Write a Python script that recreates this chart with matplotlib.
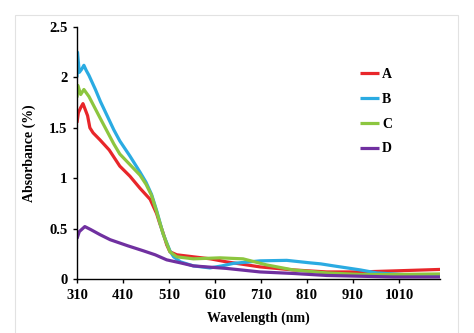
import matplotlib
matplotlib.use("Agg")
import matplotlib.pyplot as plt
from matplotlib.patches import Rectangle

# values
wl_a = [310, 313, 318, 323, 328, 333, 338, 345, 360, 380, 403, 425, 447, 469, 483, 490, 497, 505, 512, 527, 563, 600, 635, 708, 780, 853, 926, 997, 1100]
abs_a = [1.55, 1.65, 1.70, 1.74, 1.68, 1.62, 1.50, 1.45, 1.38, 1.28, 1.12, 1.02, 0.90, 0.79, 0.65, 0.55, 0.46, 0.34, 0.27, 0.24, 0.22, 0.20, 0.17, 0.12, 0.09, 0.07, 0.07, 0.08, 0.095]

wl_b = [310, 311, 315, 320, 325, 330, 336, 350, 361, 390, 403, 425, 447, 460, 472, 483, 497, 512, 520, 535, 563, 599, 625, 650, 708, 766, 817, 840, 868, 926, 962, 1034, 1100]
abs_b = [2.00, 2.25, 2.05, 2.08, 2.12, 2.07, 2.02, 1.88, 1.76, 1.48, 1.37, 1.22, 1.06, 0.96, 0.84, 0.68, 0.45, 0.28, 0.22, 0.17, 0.13, 0.11, 0.13, 0.155, 0.18, 0.185, 0.16, 0.15, 0.13, 0.09, 0.06, 0.04, 0.04]

wl_c = [310, 312, 318, 325, 336, 361, 390, 403, 447, 460, 472, 483, 497, 512, 527, 563, 621, 671, 722, 780, 853, 926, 1000, 1100]
abs_c = [1.80, 1.92, 1.83, 1.88, 1.81, 1.59, 1.34, 1.24, 1.03, 0.94, 0.83, 0.67, 0.45, 0.27, 0.22, 0.20, 0.21, 0.20, 0.14, 0.09, 0.06, 0.045, 0.045, 0.05]

wl_d = [310, 315, 327, 340, 360, 382, 420, 454, 480, 505, 535, 563, 635, 708, 780, 853, 997, 1100]
abs_d = [0.40, 0.47, 0.52, 0.49, 0.44, 0.39, 0.33, 0.28, 0.24, 0.19, 0.16, 0.13, 0.105, 0.07, 0.055, 0.035, 0.02, 0.02]

SERIES = [
    ("A", wl_a, abs_a, "#e8262a"),
    ("B", wl_b, abs_b, "#2aabe2"),
    ("C", wl_c, abs_c, "#8cc63f"),
    ("D", wl_d, abs_d, "#7030a0"),
]

x_ticks = [310, 410, 510, 610, 710, 810, 910, 1010]
y_ticks = [0, 0.5, 1, 1.5, 2, 2.5]
y_labels = ["0", "0.5", "1", "1.5", "2", "2.5"]

W, H = 474, 333
plt.rcParams["font.family"] = "Liberation Serif"
plt.rcParams["font.weight"] = "bold"

fig = plt.figure(figsize=(W / 100, H / 100), dpi=100)
fig.patches.append(Rectangle((15 / W, -0.1), (458 - 15) / W, 1.1 - 15 / H,
                             transform=fig.transFigure, fill=False,
                             edgecolor="#e2e2e2", linewidth=0.8))

ax = fig.add_axes([77 / W, 54 / H, 363.4 / W, 252 / H])
for name, wl, val, color in SERIES:
    ax.plot(wl, val, color=color, lw=2.3, label=name, solid_capstyle="butt")

ax.set_xlim(310, 1100)
ax.set_ylim(0, 2.5)
ax.set_xticks(x_ticks)
ax.set_yticks(y_ticks)
ax.set_yticklabels(y_labels)
ax.tick_params(labelsize=10.5, length=3, width=1, color="black", pad=4)
for lbl in ax.get_xticklabels() + ax.get_yticklabels():
    lbl.set_fontweight("bold")
for side in ("top", "right"):
    ax.spines[side].set_visible(False)
for side in ("left", "bottom"):
    ax.spines[side].set_linewidth(1.0)

ax.set_xlabel("Wavelength (nm)", fontsize=10, fontweight="bold", labelpad=7)
ax.set_ylabel("Absorbance (%)", fontsize=10, fontweight="bold", labelpad=9)

ax.legend(loc="upper left", bbox_to_anchor=(353 / W, 1 - 61 / H),
          bbox_transform=fig.transFigure, frameon=False, borderpad=0,
          handlelength=1.4, handletextpad=0.2, labelspacing=0.85,
          prop={"size": 10, "weight": "bold"})

fig.savefig("out.png", dpi=100)
